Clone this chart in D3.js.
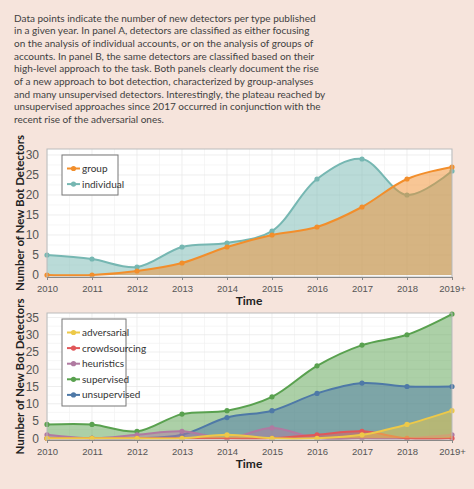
<!DOCTYPE html>
<meta charset="utf-8">
<style>
body { margin: 0; background: #f6e4dc; }
svg { display: block; font-family: Lato, "Open Sans", sans-serif; }
.tick text { fill: #555; }
</style>
<body>
<script src="https://cdn.jsdelivr.net/npm/d3@7"></script>
<div id="content"></div>
<script>
var width = 474,
    height = 489;

var years = ["2010", "2011", "2012", "2013", "2014", "2015", "2016", "2017", "2018", "2019+"];

// panel A
var group      = [0, 0, 1, 3, 7, 10, 12, 17, 24, 27];
var individual = [5, 4, 2, 7, 8, 11, 24, 29, 20, 26];

// panel B
var adversarial    = [0, 0, 0, 0, 1, 0, 0, 1, 4, 8];
var crowdsourcing  = [0, 0, 0, 0, 0, 0, 1, 2, 0, 0];
var heuristics     = [1, 0, 1, 2, 0, 3, 0, 0, 0, 1];
var supervised     = [4, 4, 2, 7, 8, 12, 21, 27, 30, 36];
var unsupervised   = [0, 0, 0, 1, 6, 8, 13, 16, 15, 15];

var yTicksA = [0, 5, 10, 15, 20, 25, 30];
var yTicksB = [0, 5, 10, 15, 20, 25, 30, 35];

var caption = [
  "Data points indicate the number of new detectors per type published",
  "in a given year. In panel A, detectors are classified as either focusing",
  "on the analysis of individual accounts, or on the analysis of groups of",
  "accounts. In panel B, the same detectors are classified based on their",
  "high-level approach to the task. Both panels clearly document the rise",
  "of a new approach to bot detection, characterized by group-analyses",
  "and many unsupervised detectors. Interestingly, the plateau reached by",
  "unsupervised approaches since 2017 occurred in conjunction with the",
  "recent rise of the adversarial ones."
];

var panelA = [
  {name: "individual", values: individual, color: "#76b7b2"},
  {name: "group", values: group, color: "#f28e2b"}
];
var panelB = [
  {name: "supervised", values: supervised, color: "#59a14f"},
  {name: "unsupervised", values: unsupervised, color: "#4e79a7"},
  {name: "heuristics", values: heuristics, color: "#b07aa1"},
  {name: "crowdsourcing", values: crowdsourcing, color: "#e15759"},
  {name: "adversarial", values: adversarial, color: "#edc948"}
];

var svg = d3.select("#content").append("svg")
    .attr("width", width)
    .attr("height", height);

svg.append("g")
  .selectAll("text")
  .data(caption)
  .enter()
  .append("text")
  .attr("x", 14)
  .attr("y", (d, i) => 21.5 + i * 12.7)
  .style("font-size", "10px")
  .style("fill", "#3f3f3f")
  .text(d => d);

var x = d3.scalePoint().domain(years).range([47, 452]);

function drawPanel(series, top, bottom, yMax, ticks, legendBox, xLabelY, titleY) {
  var y = d3.scaleLinear().domain([-0.5, yMax]).range([bottom, top]);
  var g = svg.append("g");

  g.append("rect")
    .attr("x", 47).attr("y", top)
    .attr("width", 405).attr("height", bottom - top)
    .style("fill", "#fff");

  // minor grid
  var minorX = d3.range(0, years.length - 0.5, 0.5);
  var xs = d3.scaleLinear().domain([0, years.length - 1]).range([47, 452]);
  g.selectAll(".gx")
    .data(minorX)
    .enter().append("line")
    .attr("x1", d => xs(d)).attr("x2", d => xs(d))
    .attr("y1", top).attr("y2", bottom)
    .style("stroke", d => d % 1 === 0 ? "#e6e6e6" : "#f2f2f2")
    .style("stroke-width", 0.7);
  g.selectAll(".gy")
    .data(d3.range(0, yMax, 2.5))
    .enter().append("line")
    .attr("x1", 47).attr("x2", 452)
    .attr("y1", d => y(d)).attr("y2", d => y(d))
    .style("stroke", d => d % 5 === 0 ? "#e6e6e6" : "#f2f2f2")
    .style("stroke-width", 0.7);

  var curve = d3.curveCatmullRom.alpha(0.5);
  var area = d3.area()
      .x((d, i) => x(years[i]))
      .y0(y(0))
      .y1(d => y(d))
      .curve(curve);
  var line = d3.line()
      .x((d, i) => x(years[i]))
      .y(d => y(d))
      .curve(curve);

  series.forEach(s => {
    g.append("path")
      .attr("d", area(s.values))
      .style("fill", s.color)
      .style("fill-opacity", 0.5);
    g.append("path")
      .attr("d", line(s.values))
      .style("fill", "none")
      .style("stroke", s.color)
      .style("stroke-width", 2);
    g.selectAll(".pt")
      .data(s.values)
      .enter().append("circle")
      .attr("cx", (d, i) => x(years[i]))
      .attr("cy", d => y(d))
      .attr("r", 2.6)
      .style("fill", s.color);
  });

  g.append("rect")
    .attr("x", 47).attr("y", top)
    .attr("width", 405).attr("height", bottom - top)
    .style("fill", "none")
    .style("stroke", "#bbb");

  var xAxis = g.append("g")
    .attr("transform", "translate(0," + bottom + ")")
    .call(d3.axisBottom(x).tickSize(3));
  xAxis.select(".domain").style("stroke", "#888");
  xAxis.selectAll(".tick line").style("stroke", "#888");
  xAxis.selectAll("text").style("font-size", "9.5px").attr("dy", "0.9em");

  var yAxis = g.append("g")
    .attr("transform", "translate(47,0)")
    .call(d3.axisLeft(y).tickValues(ticks).tickSize(0).tickPadding(8));
  yAxis.select(".domain").remove();
  yAxis.selectAll("text").style("font-size", "12px");

  g.append("text")
    .attr("x", 249).attr("y", titleY)
    .attr("text-anchor", "middle")
    .style("font-weight", "bold")
    .style("font-size", "12px")
    .style("fill", "#222")
    .text("Time");

  g.append("text")
    .attr("transform", "translate(24," + ((top + bottom) / 2) + ") rotate(-90)")
    .attr("text-anchor", "middle")
    .style("font-weight", "bold")
    .style("font-size", "11.5px")
    .style("fill", "#222")
    .text("Number of New Bot Detectors");

  // legend, alphabetical
  var items = series.slice().sort((a, b) => d3.ascending(a.name, b.name));
  var lg = g.append("g");
  lg.append("rect")
    .attr("x", legendBox[0]).attr("y", legendBox[1])
    .attr("width", legendBox[2]).attr("height", legendBox[3])
    .style("fill", "#fff")
    .style("stroke", "#777");
  var row = lg.selectAll(".item")
    .data(items)
    .enter().append("g")
    .attr("transform", (d, i) => "translate(" + (legendBox[0] + 5) + "," + (legendBox[1] + 13.5 + i * 15.6) + ")");
  row.append("line")
    .attr("x1", 0).attr("x2", 13)
    .style("stroke", d => d.color)
    .style("stroke-width", 2);
  row.append("circle")
    .attr("cx", 6.5).attr("r", 2.6)
    .style("fill", d => d.color);
  row.append("text")
    .attr("x", 15).attr("dy", "0.35em")
    .style("font-size", "10px")
    .style("fill", "#333")
    .text(d => d.name);
}

drawPanel(panelA, 149, 277, 31.5, yTicksA, [62, 155, 56, 40], 287, 305);
drawPanel(panelB, 313, 440, 36.3, yTicksB, [62, 319, 64, 87], 450, 468);
</script>
</body>
